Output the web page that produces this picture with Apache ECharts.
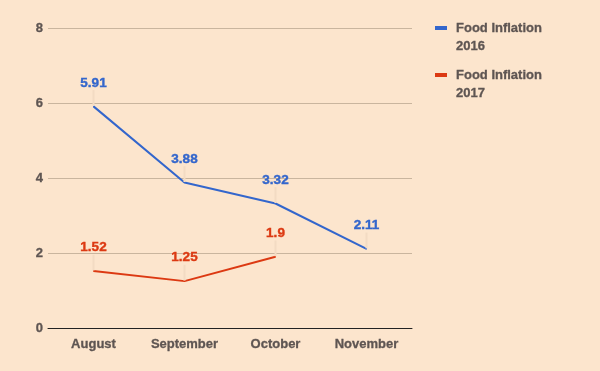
<!DOCTYPE html>
<html><head><meta charset="utf-8">
<script src="https://cdn.jsdelivr.net/npm/echarts@6/dist/echarts.min.js"></script>
<style>html,body{margin:0;padding:0;background:#FCE5CD;}#c{width:600px;height:371px;}</style>
</head><body><div id="c"></div>
<script>
var categories = ['August', 'September', 'October', 'November'];
var food2016 = [5.91, 3.88, 3.32, 2.11];
var food2017 = [1.52, 1.25, 1.9, null];
var yTicks = [0, 2, 4, 6, 8];
var seriesNames = ['Food Inflation 2016', 'Food Inflation 2017'];
var colors = ['#3366CC', '#DC3912'];

var font = 'Liberation Sans, Arial, sans-serif';
var textColor = '#5E5552';
var chart = echarts.init(document.getElementById('c'));

function mkSeries(name, data, color) {
  return {
    name: name, type: 'line', data: data, color: color,
    symbol: 'circle', symbolSize: 1, showSymbol: true, connectNulls: false,
    itemStyle: { color: color },
    lineStyle: { width: 2, color: color },
    label: {
      show: true, position: 'top', distance: 5,
      color: color, fontFamily: font, fontWeight: 'bold', fontSize: 13.5,
      textBorderColor: color, textBorderWidth: 0.4,
      formatter: function (p) { return p.value; }
    },
    labelLayout: { dy: -11 },
    labelLine: { show: true, lineStyle: { color: '#F3DBC3', width: 2 } }
  };
}

chart.setOption({
  backgroundColor: '#FCE5CD',
  animation: false,
  grid: { left: 48, right: 188, top: 28, bottom: 43 },
  legend: {
    orient: 'vertical', left: 435, top: 1, itemGap: -7, padding: 0,
    itemWidth: 12, itemHeight: 4, icon: 'rect',
    data: seriesNames,
    formatter: function (n) { return ' \n' + n.replace(' 201', '\n201'); },
    textStyle: { color: textColor, fontFamily: font, fontWeight: 'bold', fontSize: 13,
      textBorderColor: textColor, textBorderWidth: 0.3,
      lineHeight: 18, padding: [0, 0, 0, 4] }
  },
  xAxis: {
    type: 'category', data: categories, boundaryGap: true,
    axisLine: { lineStyle: { color: '#222', width: 1 } },
    axisTick: { show: false },
    axisLabel: { color: textColor, fontFamily: font, fontWeight: 'bold', fontSize: 13, margin: 10,
      textBorderColor: textColor, textBorderWidth: 0.3 }
  },
  yAxis: {
    type: 'value', min: yTicks[0], max: yTicks[yTicks.length - 1], interval: 2,
    axisLine: { show: false }, axisTick: { show: false },
    splitLine: { lineStyle: { color: '#C9B59E', width: 1 } },
    axisLabel: { color: textColor, fontFamily: font, fontWeight: 'bold', fontSize: 13, margin: 5,
      textBorderColor: textColor, textBorderWidth: 0.3 }
  },
  series: [
    mkSeries(seriesNames[0], food2016, colors[0]),
    mkSeries(seriesNames[1], food2017, colors[1])
  ]
});
</script></body></html>
